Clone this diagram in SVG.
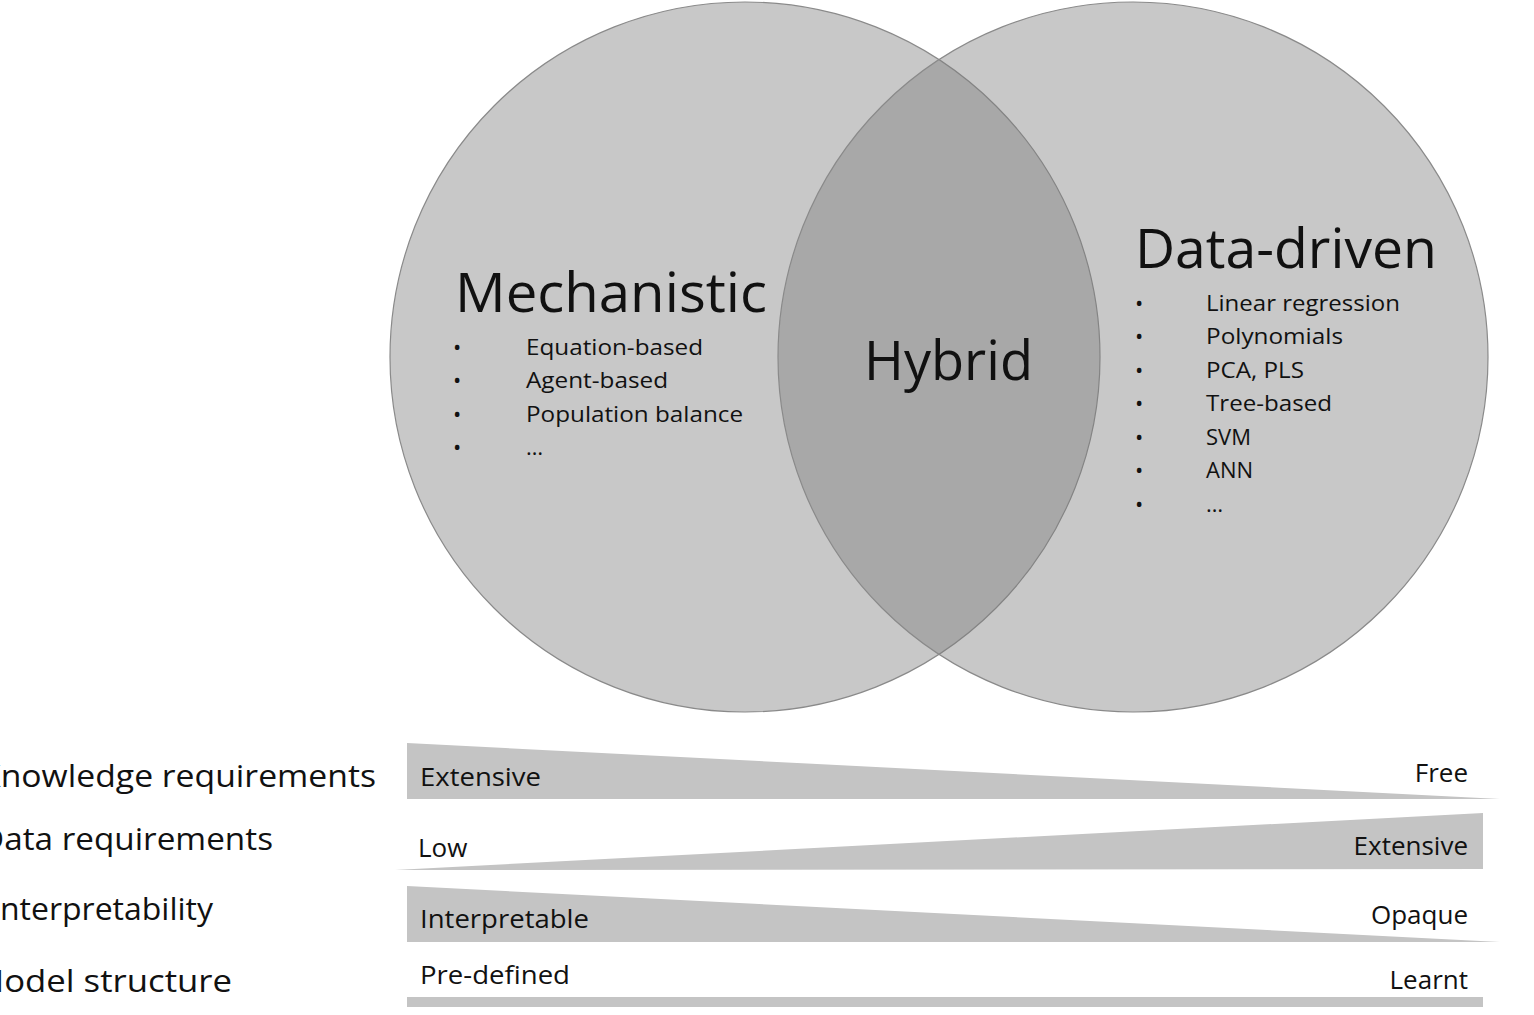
<svg xmlns="http://www.w3.org/2000/svg" width="1534" height="1015" viewBox="0 0 1534 1015">
<style>
text{font-family:"Open Sans","Liberation Sans",sans-serif;fill:#111}
.c{fill:#7b7b7b;fill-opacity:.42;stroke:#8a8a8a;stroke-width:1.2}
.bar{fill:#c4c4c4}
.big{font-size:54px}
.li{font-size:22px}
.lab{font-size:31px}
.bl{font-size:26px}
.e{text-anchor:end}
</style>
<rect width="1534" height="1015" fill="#fff"/>
<g id="mechanistic">
<circle class="c" cx="745" cy="357" r="355"/>
<text class="big" x="455" y="312" textLength="312" lengthAdjust="spacingAndGlyphs">Mechanistic</text>
<g class="li">
<text x="453" y="355">•</text><text x="526" y="355" textLength="177" lengthAdjust="spacingAndGlyphs">Equation-based</text>
<text x="453" y="388">•</text><text x="526" y="388" textLength="142" lengthAdjust="spacingAndGlyphs">Agent-based</text>
<text x="453" y="422">•</text><text x="526" y="422" textLength="217" lengthAdjust="spacingAndGlyphs">Population balance</text>
<text x="453" y="455">•</text><text x="526" y="455">…</text>
</g>
</g>
<g id="datadriven">
<circle class="c" cx="1133" cy="357" r="355"/>
<text class="big" x="1135" y="268" textLength="302" lengthAdjust="spacingAndGlyphs">Data-driven</text>
<g class="li">
<text x="1135" y="311">•</text><text x="1206" y="311" textLength="194" lengthAdjust="spacingAndGlyphs">Linear regression</text>
<text x="1135" y="344">•</text><text x="1206" y="344" textLength="137" lengthAdjust="spacingAndGlyphs">Polynomials</text>
<text x="1135" y="378">•</text><text x="1206" y="378" textLength="98" lengthAdjust="spacingAndGlyphs">PCA, PLS</text>
<text x="1135" y="411">•</text><text x="1206" y="411" textLength="126" lengthAdjust="spacingAndGlyphs">Tree-based</text>
<text x="1135" y="445">•</text><text x="1206" y="445">SVM</text>
<text x="1135" y="478">•</text><text x="1206" y="478">ANN</text>
<text x="1135" y="512">•</text><text x="1206" y="512">…</text>
</g>
</g>
<g id="hybrid">
<text class="big" x="864" y="380" textLength="169" lengthAdjust="spacingAndGlyphs">Hybrid</text>
</g>
<g id="labels" class="lab">
<text x="-20" y="787" textLength="396" lengthAdjust="spacingAndGlyphs">Knowledge requirements</text>
<text x="-20" y="850" textLength="293" lengthAdjust="spacingAndGlyphs">Data requirements</text>
<text x="-9" y="920" textLength="222" lengthAdjust="spacingAndGlyphs">Interpretability</text>
<text x="-27" y="992" textLength="259" lengthAdjust="spacingAndGlyphs">Model structure</text>
</g>
<g id="bars">
<polygon class="bar" points="407,743 407,799 1500,799"/>
<polygon class="bar" points="395,870 1483,813 1483,869"/>
<polygon class="bar" points="407,886 407,942 1500,942"/>
<rect class="bar" x="407" y="997" width="1076" height="10"/>
<g class="bl">
<text x="420" y="786" textLength="121" lengthAdjust="spacingAndGlyphs">Extensive</text>
<text class="e" x="1468" y="782">Free</text>
<text x="418" y="857">Low</text>
<text class="e" x="1468" y="855">Extensive</text>
<text x="420" y="928" textLength="169" lengthAdjust="spacingAndGlyphs">Interpretable</text>
<text class="e" x="1468" y="924">Opaque</text>
<text x="420" y="984" textLength="150" lengthAdjust="spacingAndGlyphs">Pre-defined</text>
<text class="e" x="1468" y="989">Learnt</text>
</g>
</g>
</svg>
